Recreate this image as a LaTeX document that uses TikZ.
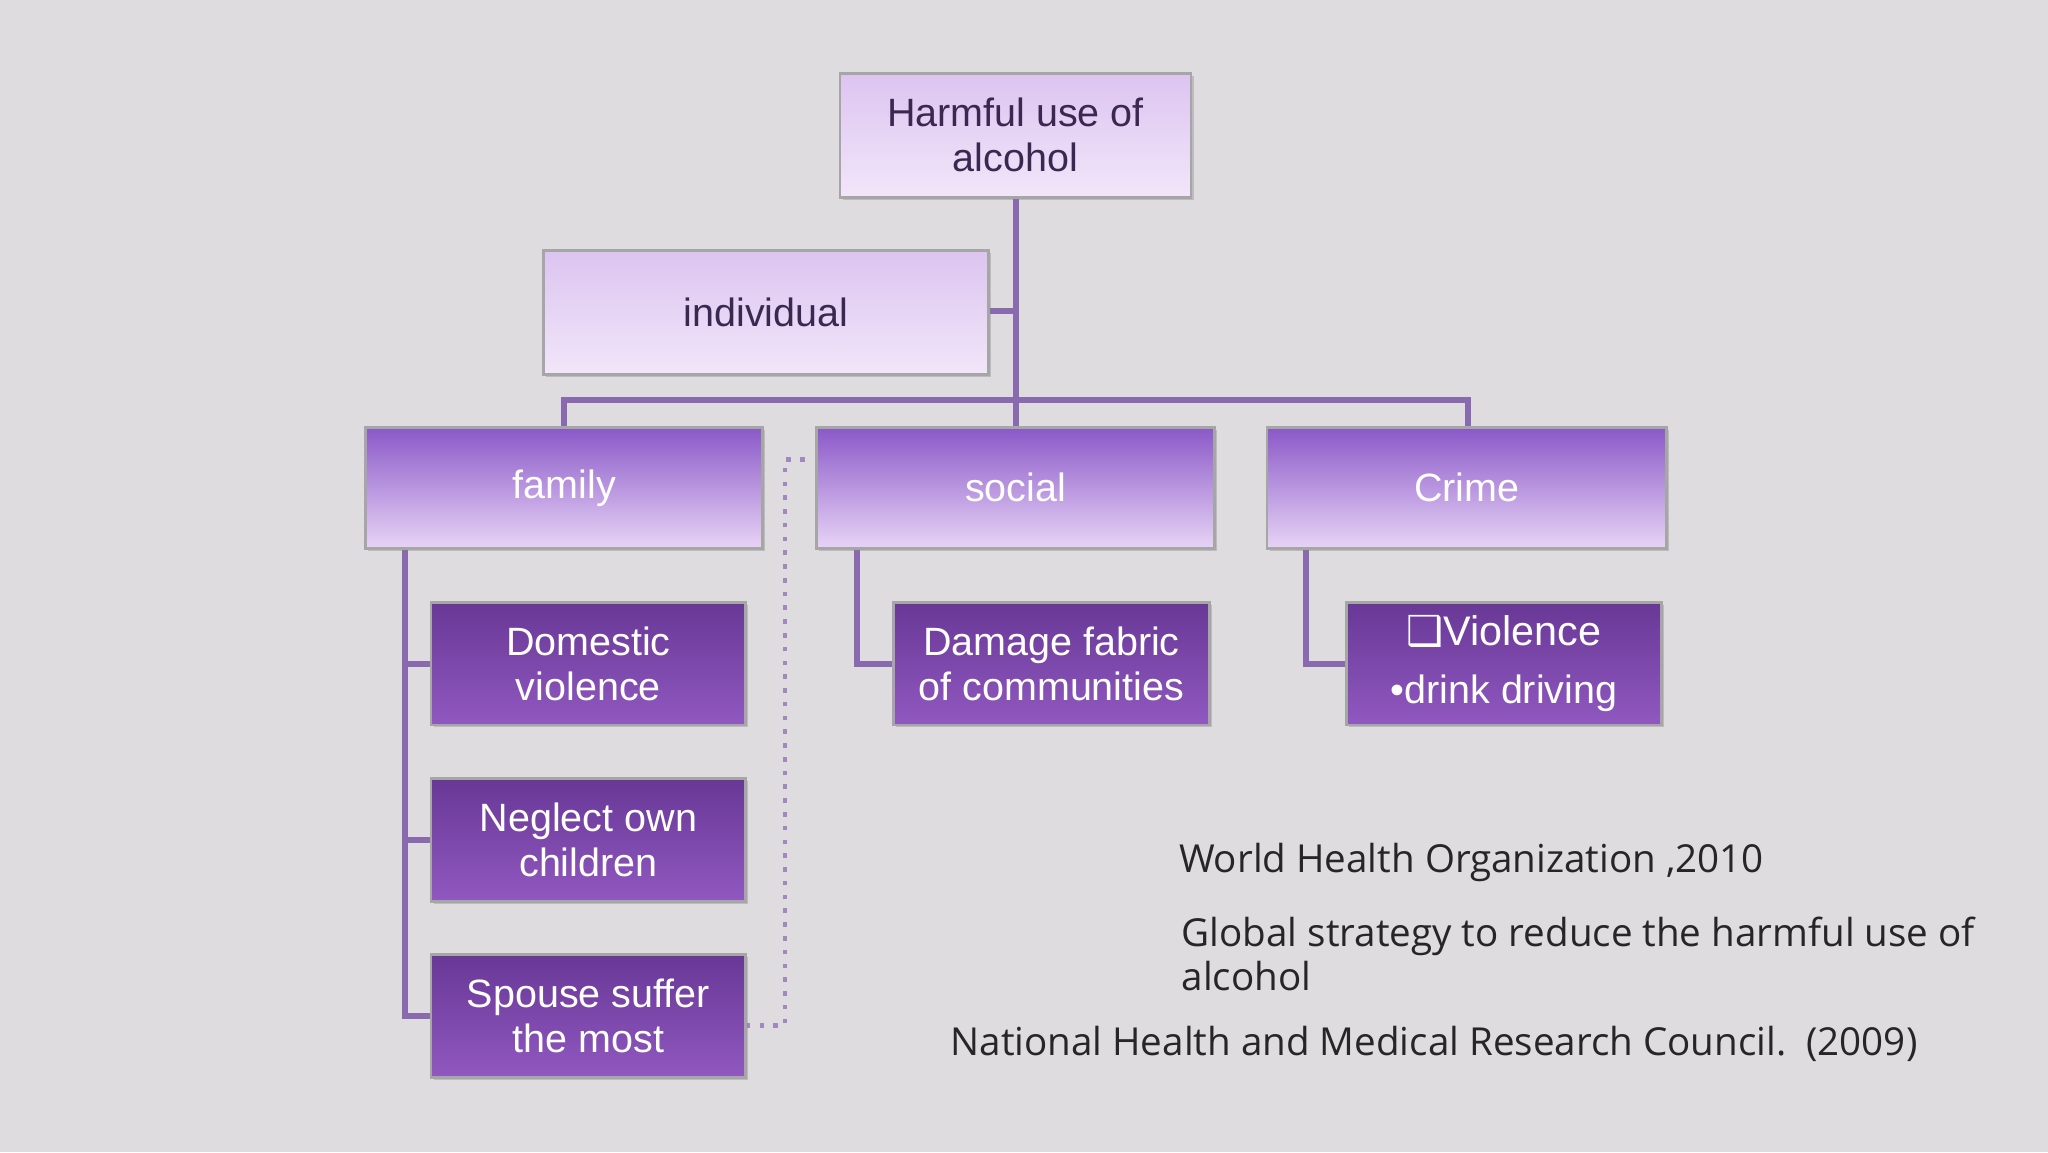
\documentclass[tikz,border=0pt]{standalone}
\usepackage{fontspec}
\setmainfont{Liberation Sans}
\newfontfamily\reffont{Open Sans}
\usetikzlibrary{shadows}
\definecolor{bg}{HTML}{DEDCDE}
\definecolor{ln}{HTML}{8A6AAE}
\definecolor{lt}{HTML}{DCC4F0}
\definecolor{lb}{HTML}{F2E6FA}
\definecolor{mt}{HTML}{8A58C8}
\definecolor{mb}{HTML}{E8D4F6}
\definecolor{dt}{HTML}{683896}
\definecolor{db}{HTML}{9058C0}
\definecolor{txt}{HTML}{3A2850}
\tikzset{
 base/.style={draw=gray!70,line width=0.6pt,drop shadow={opacity=0.35,shadow xshift=0.02,shadow yshift=-0.02},
   align=center,inner sep=0pt,font=\fontsize{8.6}{9.8}\selectfont},
 lightbox/.style={base,top color=lt,bottom color=lb,text=txt},
 midbox/.style={base,top color=mt,bottom color=mb,text=white},
 darkbox/.style={base,top color=dt,bottom color=db,text=white},
 conn/.style={draw=ln,line width=1.3pt},
 reftext/.style={font=\reffont\fontsize{8.4}{9.6}\selectfont,text=black!85,anchor=west,align=left,inner sep=0pt}
}
\newcommand{\bx}[6]{\node[#1,minimum width={(#4-#3)*0.01cm},minimum height={(#6-#5)*0.01cm}] (#2) at ({(#3+#4)/200},{8.82-(#5+#6)/200})}
\begin{document}
\begin{tikzpicture}
\fill[bg] (0,0) rectangle (15.68,8.82);
\useasboundingbox (0,0) rectangle (15.68,8.82);
% connectors first
\coordinate (j1) at (7.78,8.82-2.38);
\coordinate (hb) at (7.78,8.82-3.06);
\coordinate (hl) at (4.32,8.82-3.06);
\coordinate (hr) at (11.24,8.82-3.06);
\coordinate (f0) at (3.10,8.82-4.20);
\coordinate (f1) at (3.10,8.82-5.08);
\coordinate (f2) at (3.10,8.82-6.43);
\coordinate (f3) at (3.10,8.82-7.78);
\coordinate (s0) at (6.56,8.82-4.20);
\coordinate (s1) at (6.56,8.82-5.08);
\coordinate (c0) at (10.00,8.82-4.20);
\coordinate (c1) at (10.00,8.82-5.08);
\coordinate (d0) at (5.71,8.82-7.85);
\coordinate (d1) at (6.01,8.82-7.85);
\coordinate (d2) at (6.01,8.82-3.52);
\coordinate (d3) at (6.22,8.82-3.52);
\draw[conn] (7.78,8.82-1.51) -- (7.78,8.82-3.27);
\draw[conn] (7.57,8.82-2.38) -- (j1);
\draw[conn] (4.32,8.82-3.27) -- (hl) -- (hr) -- (11.24,8.82-3.27);
\draw[conn] (f0) -- (f3) -- (3.30,8.82-7.78);
\draw[conn] (f1) -- (3.30,8.82-5.08);
\draw[conn] (f2) -- (3.30,8.82-6.43);
\draw[conn] (s0) -- (s1) -- (6.84,8.82-5.08);
\draw[conn] (c0) -- (c1) -- (10.31,8.82-5.08);
\draw[ln!80,line width=1pt,dotted] (d0) -- (d1) -- (d2) -- (d3);
% boxes
\bx{lightbox}{top}{643}{912}{56}{151} {Harmful use of\\alcohol};
\bx{lightbox}{ind}{416}{757}{192}{287} {individual};
\bx{midbox}{fam}{280}{584}{327}{420} {family};
\bx{midbox}{soc}{625}{930}{327}{420} {social};
\bx{midbox}{cri}{970}{1276}{327}{420} {Crime};
\bx{darkbox}{dom}{330}{571}{461}{555} {Domestic\\violence};
\bx{darkbox}{neg}{330}{571}{596}{690} {Neglect own\\children};
\bx{darkbox}{spo}{330}{571}{731}{825} {Spouse suffer\\the most};
\bx{darkbox}{dam}{684}{926}{461}{555} {Damage fabric\\of communities};
\bx{darkbox}{vio}{1031}{1272}{461}{555} {\fontspec{DejaVu Sans}\small ❑\fontspec{Liberation Sans}Violence\\[0.1cm]•drink driving};
% references
\node[reftext] (r1) at (9.02,8.82-6.60) {World Health Organization ,2010};
\node[reftext] (r2) at (9.04,8.82-7.30) {Global strategy to reduce the harmful use of\\alcohol};
\node[reftext] (r3) at (7.27,8.82-7.99) {National Health and Medical Research Council.\ \ (2009)};
\end{tikzpicture}
\end{document}
